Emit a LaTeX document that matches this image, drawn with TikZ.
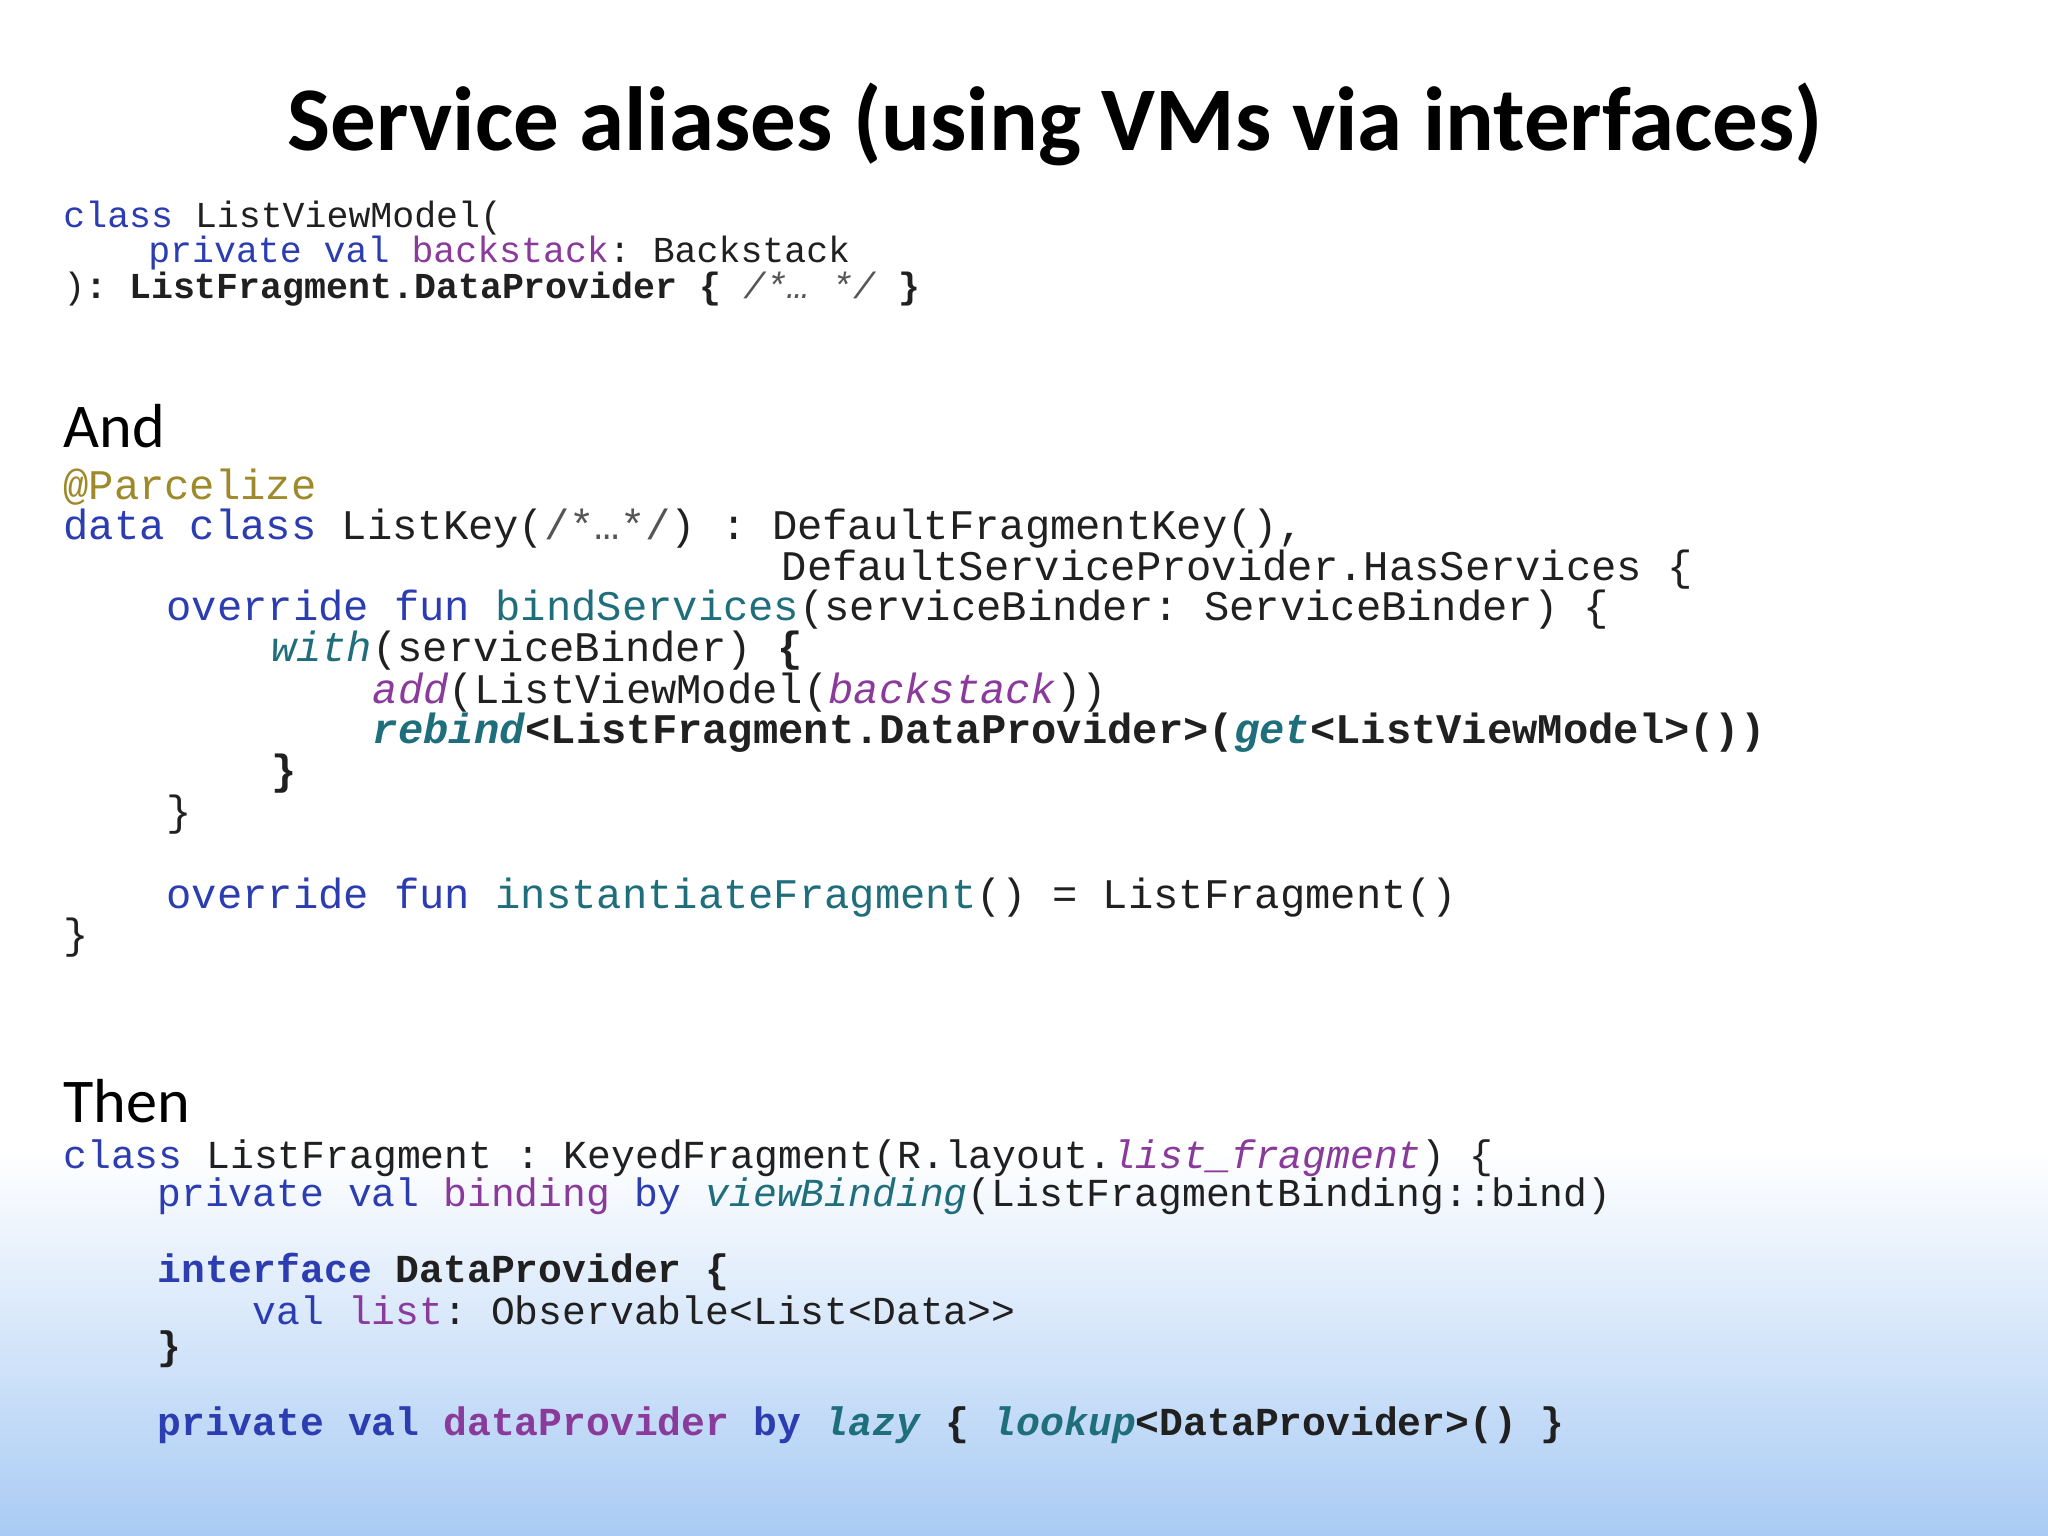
\documentclass[tikz,border=0pt]{standalone}
\usepackage{fontspec}
\setmonofont{Liberation Mono}
\newfontfamily\titlefont{Carlito}
\definecolor{kwc}{HTML}{2B3DB0}
\definecolor{ppc}{HTML}{8A3A9A}
\definecolor{fnc}{HTML}{1E6E7C}
\definecolor{anc}{HTML}{9E8A2A}
\definecolor{cmc}{HTML}{555555}
\definecolor{txc}{HTML}{202020}
\definecolor{bgb}{HTML}{A9CBF4}
\newcommand{\kw}[1]{\textcolor{kwc}{#1}}
\newcommand{\pp}[1]{\textcolor{ppc}{#1}}
\newcommand{\fn}[1]{\textcolor{fnc}{#1}}
\begin{document}
\begin{tikzpicture}[x=0.01306cm,y=-0.01306cm,
  codeA/.style={anchor=west,inner sep=0pt,font=\ttfamily\fontsize{10.4}{12}\selectfont,text=txc},
  codeB/.style={anchor=west,inner sep=0pt,font=\ttfamily\fontsize{12}{14}\selectfont,text=txc},
  codeC/.style={anchor=west,inner sep=0pt,font=\ttfamily\fontsize{11.3}{13}\selectfont,text=txc},
  head/.style={anchor=west,inner sep=0pt,font=\titlefont\fontsize{17.7}{21}\selectfont}]
\useasboundingbox (0,0) rectangle (1568,1176);
\fill[white] (0,0) rectangle (1568,1176);
\shade[top color=white,bottom color=bgb] (0,880) rectangle (1568,1176);
\node[inner sep=0pt,font=\titlefont\bfseries\fontsize{25.9}{31}\selectfont] (title) at (808,95) {Service aliases (using VMs via interfaces)};
% block 1
\node[codeA] (a1) at (48,167) {\kw{class} ListViewModel(};
\node[codeA] (a2) at (113,194) {\kw{private val} \pp{backstack}: Backstack};
\node[codeA] (a3) at (48,221) {)\textbf{: ListFragment.DataProvider \{} \textcolor{cmc}{\textit{/*… */}} \textbf{\}}};
\node[head] (and) at (48,326) {And};
% block 2
\node[codeB] (b1) at (48,373) {\textcolor{anc}{@Parcelize}};
\node[codeB] (b2) at (48,405) {\kw{data class} ListKey(\textcolor{cmc}{/*…*/}) : DefaultFragmentKey(),};
\node[codeB] (b3) at (598,436) {DefaultServiceProvider.HasServices \{};
\node[codeB] (b4) at (127,467) {\kw{override fun} \fn{bindServices}(serviceBinder: ServiceBinder) \{};
\node[codeB] (b5) at (207,498) {\fn{\textit{with}}(serviceBinder) \textbf{\{}};
\node[codeB] (b6) at (285,530) {\pp{\textit{add}}(ListViewModel(\pp{\textit{backstack}}))};
\node[codeB] (b7) at (285,561) {\textbf{\fn{\textit{rebind}}<ListFragment.DataProvider>(\fn{\textit{get}}<ListViewModel>())}};
\node[codeB] (b8) at (207,592) {\textbf{\}}};
\node[codeB] (b9) at (127,624) {\}};
\node[codeB] (b10) at (127,687) {\kw{override fun} \fn{instantiateFragment}() = ListFragment()};
\node[codeB] (b11) at (48,718) {\}};
\node[head] (then) at (48,843) {Then};
% block 3
\node[codeC] (c1) at (48,887) {\kw{class} ListFragment : KeyedFragment(R.layout.\pp{\textit{list\_fragment}}) \{};
\node[codeC] (c2) at (120,916) {\kw{private val} \pp{binding} \kw{by} \fn{\textit{viewBinding}}(ListFragmentBinding::bind)};
\node[codeC] (c3) at (120,974) {\textbf{\kw{interface} DataProvider \{}};
\node[codeC] (c4) at (193,1003) {\kw{val} \pp{list}: Observable<List<Data>{}>};
\node[codeC] (c5) at (120,1033) {\textbf{\}}};
\node[codeC] (c6) at (120,1091) {\textbf{\kw{private val} \pp{dataProvider} \kw{by} \fn{\textit{lazy}} \{ \fn{\textit{lookup}}<DataProvider>() \}}};
\end{tikzpicture}
\end{document}
